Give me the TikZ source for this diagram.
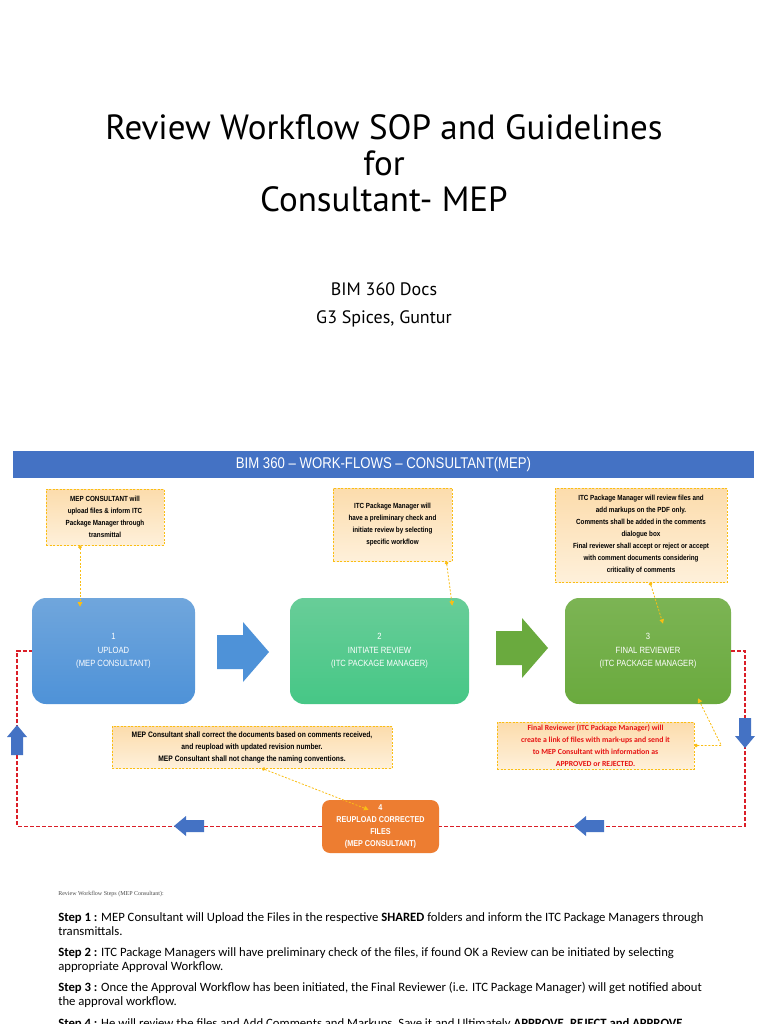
\documentclass[tikz,border=0pt]{standalone}
\usepackage{fontspec}
\setmainfont{Carlito}
\newfontfamily\titlefont{PT Sans}
\newfontfamily\narrowfont{Liberation Sans}[FakeStretch=0.85]
\newfontfamily\capfont{Liberation Serif}
\usepackage{xcolor}
\usepackage{tikz}
\usetikzlibrary{arrows.meta,calc,positioning}

\definecolor{bannerblue}{RGB}{68,114,196}
\definecolor{uptop}{RGB}{112,166,220}
\definecolor{upbot}{RGB}{78,146,216}
\definecolor{inittop}{RGB}{104,205,152}
\definecolor{initbot}{RGB}{70,199,134}
\definecolor{revtop}{RGB}{124,180,84}
\definecolor{revbot}{RGB}{106,170,62}
\definecolor{reupfill}{RGB}{237,125,49}
\definecolor{notetop}{RGB}{252,220,172}
\definecolor{notebot}{RGB}{254,240,218}
\definecolor{noteline}{RGB}{250,190,20}
\definecolor{loopred}{RGB}{218,30,40}
\definecolor{markblue}{RGB}{68,114,196}
\definecolor{notered}{RGB}{230,20,20}

\begin{document}
\begin{tikzpicture}[x=1pt,y=-1pt,line width=0.55pt,
    stepbox/.style={rounded corners=14pt, inner sep=0pt, minimum height=106pt, align=center, text=white,
      font={\narrowfont\fontsize{9}{13.5}\selectfont}},
    notebox/.style={draw=noteline, dash pattern=on 2pt off 1.5pt, line width=0.7pt, top color=notetop, bottom color=notebot,
      inner sep=0pt, align=center, font={\narrowfont\bfseries\fontsize{7.4}{12}\selectfont}},
    hint/.style={draw=noteline, dash pattern=on 2pt off 1.6pt, line width=0.8pt,
      {Circle[length=3.5pt]}-{Triangle[length=4.5pt,width=4.5pt]}},
    loopline/.style={draw=loopred, line width=1.2pt, dash pattern=on 4pt off 2pt},
    bigarrow/.pic={\path[pic actions] (-26,-17) -- (0,-17) -- (0,-30) -- (26,0) -- (0,30) -- (0,17) -- (-26,17) -- cycle;},
    smallarrow/.pic={\path[pic actions] (-15,-6) -- (3,-6) -- (3,-10) -- (15,0) -- (3,10) -- (3,6) -- (-15,6) -- cycle;},
    stepline/.style={anchor=base west, inner sep=0pt, font={\fontsize{12.7}{14.3}\selectfont}}]
    \useasboundingbox[fill=white] (0,0) rectangle (768,1024);

    \node[font={\titlefont\fontsize{35}{36}\selectfont}, align=center] (title) at (384,163)
      {Review Workflow SOP and Guidelines\\for\\Consultant- MEP};
    \node[font={\titlefont\fontsize{18}{28}\selectfont}, align=center] (sub) at (384,305)
      {BIM 360 Docs\\G3 Spices, Guntur};

    \node[fill=bannerblue, minimum width=741pt, minimum height=27pt, inner sep=0pt, text=white,
      font={\narrowfont\fontsize{15.5}{16}\selectfont}] (banner) at (383.5,464.5) {BIM 360 – WORK-FLOWS – CONSULTANT(MEP)};

    \draw[loopline] (17,651) coordinate (loopL) (745,651) coordinate (loopR);

    \node[stepbox, top color=uptop, bottom color=upbot, minimum width=163pt] (upload) at (113.5,651)
      {1\\UPLOAD\\(MEP CONSULTANT)};
    \node[stepbox, top color=inittop, bottom color=initbot, minimum width=179pt] (initiate) at (379.5,651)
      {2\\INITIATE REVIEW\\(ITC PACKAGE MANAGER)};
    \node[stepbox, top color=revtop, bottom color=revbot, minimum width=166pt] (final) at (648,651)
      {3\\FINAL REVIEWER\\(ITC PACKAGE MANAGER)};
    \node[stepbox, fill=reupfill, rounded corners=8pt, minimum width=117pt, minimum height=53pt,
      font={\narrowfont\bfseries\fontsize{8.5}{12}\selectfont}] (reupload) at (380.5,826.5)
      {4\\REUPLOAD CORRECTED\\FILES\\(MEP CONSULTANT)};

    \draw[loopline] (final.east) -- (loopR) |- (reupload.east);
    \draw[loopline] (reupload.west) -| (loopL) -- (upload.west);

    \pic[fill=upbot] at (243,652) {bigarrow};
    \pic[fill=revbot] at (522,648) {bigarrow};
    \pic[fill=markblue, rotate=90] at (17,740) {smallarrow};
    \pic[fill=markblue, rotate=-90] at (745,733) {smallarrow};
    \pic[fill=markblue, rotate=180] at (189,826) {smallarrow};
    \pic[fill=markblue, rotate=180] at (589,826) {smallarrow};

    \node[notebox, minimum width=118pt, minimum height=56pt] (noteupload) at (105,517)
      {MEP CONSULTANT will\\upload files \& inform ITC\\Package Manager through\\transmittal};
    \node[notebox, minimum width=119pt, minimum height=73pt] (noteinit) at (392.5,524.5)
      {ITC Package Manager will\\have a preliminary check and\\initiate review by selecting\\specific workflow};
    \node[notebox, minimum width=172pt, minimum height=94pt] (notefinal) at (641,535)
      {ITC Package Manager will review files and\\add markups on the PDF only.\\Comments shall be added in the comments\\dialogue box\\Final reviewer shall accept or reject or accept\\with comment documents considering\\criticality of comments};
    \node[notebox, minimum width=280pt, minimum height=42pt, font={\narrowfont\bfseries\fontsize{7.9}{12}\selectfont}] (notereup) at (252,747)
      {MEP Consultant shall correct the documents based on comments received,\\and reupload with updated revision number.\\MEP Consultant shall not change the naming conventions.};
    \node[notebox, minimum width=197pt, minimum height=47pt, text=notered, font={\bfseries\fontsize{7.8}{12}\selectfont}] (notelink) at (595.5,745.5)
      {Final Reviewer (ITC Package Manager) will\\create a link of files with mark-ups and send it\\to MEP Consultant with information as\\APPROVED or REJECTED.};

    \draw[hint] ([xshift=-25pt]noteupload.south) -- ([xshift=-33.5pt,yshift=-9pt]upload.north);
    \draw[hint] ([xshift=-6pt]noteinit.south east) -- ([xshift=-17pt,yshift=-8pt]initiate.north east);
    \draw[hint] ([xshift=9pt]notefinal.south) -- ([xshift=15pt,yshift=-26pt]final.north);
    \draw[hint] (notelink.east) -- ++(27,0) -- ([xshift=50pt,yshift=6pt]final.south);
    \draw[hint] ([xshift=10pt]notereup.south) -- ([xshift=-12pt,yshift=-10pt]reupload.north);

    \node[anchor=base west, inner sep=0pt, text=black!70, font={\capfont\fontsize{6}{7}\selectfont}] (caption) at (58,895)
      {Review Workflow Steps (MEP Consultant):};
    \node[stepline] (s1a) at (58,921) {\textbf{Step 1 :} MEP Consultant will Upload the Files in the respective \textbf{SHARED} folders and inform the ITC Package Managers through};
    \node[stepline] (s1b) at (58,935) {transmittals.};
    \node[stepline] (s2a) at (58,956) {\textbf{Step 2 :} ITC Package Managers will have preliminary check of the files, if found OK a Review can be initiated by selecting};
    \node[stepline] (s2b) at (58,970) {appropriate Approval Workflow.};
    \node[stepline] (s3a) at (58,991) {\textbf{Step 3 :} Once the Approval Workflow has been initiated, the Final Reviewer (i.e. ITC Package Manager) will get notified about};
    \node[stepline] (s3b) at (58,1005) {the approval workflow.};
    \node[stepline] (s4a) at (58,1027) {\textbf{Step 4 :} He will review the files and Add Comments and Markups, Save it and Ultimately \textbf{APPROVE, REJECT and APPROVE}};
\end{tikzpicture}
\end{document}
